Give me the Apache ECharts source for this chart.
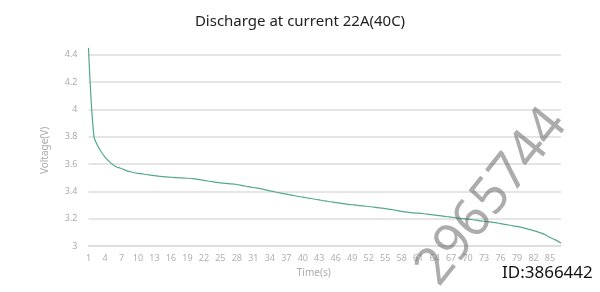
<!DOCTYPE html>
<html>
<head>
<meta charset="utf-8">
<script src="https://cdn.jsdelivr.net/npm/echarts@6/dist/echarts.min.js"></script>
<style>html,body{margin:0;padding:0;background:#fff}#c{width:600px;height:292px}</style>
</head>
<body>
<div id="c"></div>
<script>
const titleText = "Discharge at current 22A(40C)";
const xName = "Time(s)";
const yName = "Voltage(V)";
const yTicks = [3, 3.2, 3.4, 3.6, 3.8, 4, 4.2, 4.4];
const times = [];
for (let i = 1; i <= 87; i++) times.push(String(i));
const voltage = [
  4.45, 3.80, 3.71, 3.65, 3.61, 3.58, 3.567, 3.55, 3.54, 3.532,
  3.527, 3.52, 3.515, 3.51, 3.506, 3.503, 3.50, 3.498, 3.496, 3.493,
  3.487, 3.48, 3.474, 3.468, 3.462, 3.458, 3.455, 3.45, 3.442, 3.435,
  3.428, 3.422, 3.413, 3.404, 3.395, 3.387, 3.38, 3.372, 3.364, 3.358,
  3.351, 3.344, 3.337, 3.33, 3.324, 3.318, 3.312, 3.306, 3.302, 3.298,
  3.293, 3.289, 3.284, 3.279, 3.274, 3.268, 3.261, 3.254, 3.248, 3.243,
  3.240, 3.236, 3.231, 3.226, 3.222, 3.216, 3.211, 3.206, 3.201, 3.197,
  3.192, 3.186, 3.181, 3.176, 3.171, 3.164, 3.157, 3.15, 3.143, 3.134,
  3.124, 3.113, 3.10, 3.085, 3.062, 3.045, 3.022
];
const watermark = "2965744";
const idText = "ID:3866442";

const chart = echarts.init(document.getElementById('c'), null, {renderer: 'canvas'});
chart.setOption({
  animation: false,
  backgroundColor: '#fff',
  title: {
    text: titleText,
    left: 'center',
    top: 9,
    textStyle: {fontFamily: 'Noto Sans', fontSize: 15, fontWeight: 'normal', color: '#222'}
  },
  grid: {left: 88.5, right: 39, top: 54.7, bottom: 46},
  xAxis: {
    type: 'category',
    data: times,
    boundaryGap: false,
    name: xName,
    nameLocation: 'middle',
    nameGap: 22,
    nameTextStyle: {fontFamily: 'Noto Sans', fontSize: 10, color: '#aaa', padding: [0, 22, 0, 0]},
    axisLine: {show: true, lineStyle: {color: '#dcdcdc', width: 1.5}},
    axisTick: {show: false},
    axisLabel: {interval: 2, fontFamily: 'Noto Sans', fontSize: 9, color: '#b0b0b0', margin: 8},
    splitLine: {show: false}
  },
  yAxis: {
    type: 'value',
    min: yTicks[0],
    max: yTicks[yTicks.length - 1],
    interval: 0.2,
    name: yName,
    nameLocation: 'middle',
    nameGap: 38,
    nameTextStyle: {fontFamily: 'Noto Sans', fontSize: 10, color: '#aaa'},
    axisLine: {show: false},
    axisTick: {show: false},
    axisLabel: {fontFamily: 'Noto Sans', fontSize: 9, color: '#aaa', margin: 11,
      formatter: v => String(Math.round(v * 10) / 10)},
    splitLine: {lineStyle: {color: '#dcdcdc', width: 1.5}}
  },
  series: [{
    type: 'line',
    data: voltage,
    clip: false,
    smooth: 0.3,
    showSymbol: false,
    symbol: 'none',
    lineStyle: {color: '#55a88e', width: 1.2},
    z: 3
  }],
  graphic: [
    {
      type: 'text',
      x: 492, y: 197,
      rotation: 0.9,
      z: 100,
      style: {text: watermark, fontFamily: 'Noto Sans', fontSize: 52, fill: 'rgba(90,90,90,0.5)',
        align: 'center', verticalAlign: 'middle'}
    },
    {
      type: 'text',
      left: 502, top: 265,
      z: 100,
      style: {text: idText, fontFamily: 'Noto Sans', fontSize: 17, fill: '#111'}
    }
  ]
});
</script>
</body>
</html>
